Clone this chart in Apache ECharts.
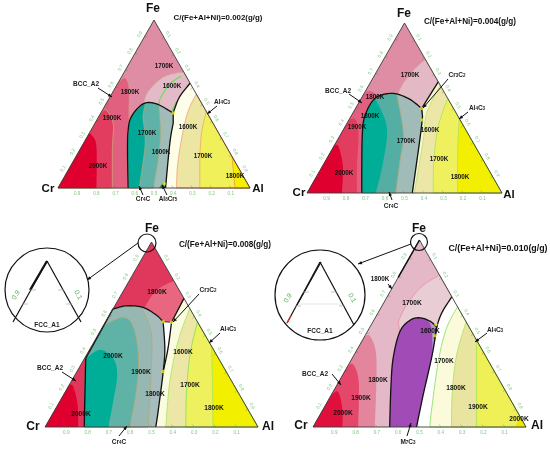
<!DOCTYPE html>
<html><head><meta charset="utf-8">
<style>html,body{margin:0;padding:0;background:#fff}#c{width:550px;height:454px}</style>
<script src="https://cdn.jsdelivr.net/npm/echarts@6/dist/echarts.min.js"></script>
</head><body><div id="c"></div>
<script>
// Region outlines in composition percent [Al, Fe]. "_" marks a sharp corner between smooth runs.
const _ = null;
const tickLabels = ['0.1','0.2','0.3','0.4','0.5','0.6','0.7','0.8','0.9'];
const titles = ['C/(Fe+Al+Ni)=0.002(g/g)','C/(Fe+Al+Ni)=0.004(g/g)','C/(Fe+Al+Ni)=0.008(g/g)','C/(Fe+Al+Ni)=0.010(g/g)'];
const whole = [[0,0],_,[100,0],_,[0,100]];

// Panel 1
const p1Light = [[30.7,69.3],[21.8,65.9],[18.3,57.4],[19.4,50.5],_,[37.7,44.6],_,[37.6,62.4]];
const p1Red1800 = [[0,63],[2,65.7],[7,60],[13.8,46.5],[20.7,32.7],[36.5,0],_,[0,0]];
const p1Red1900 = [[0,43.5],[1.6,46.5],[9.4,38.6],[16.9,22.8],[28.3,0],_,[0,0]];
const p1Red2000 = [[0,32],[1.5,31.7],[7.6,24.8],[20,0],_,[0,0]];
const p1Cream = [[37.6,62.4],_,[100,0],_,[56,0],[44.9,26.7],[40.7,38.6],_,[37.7,44.6],[37.1,47.5],[36.2,54.5],[37.6,62.4]];
const p1Pale = [[44,56],[45.6,42.6],[54.2,16.8],[61.7,0],_,[100,0]];
const p1Yellow = [[54.5,45.5],[58.4,32.7],[65.5,16.8],[73.9,0],_,[100,0]];
const p1Bright = [[81.2,18.8],[92.2,0],_,[100,0]];
const p1Blob = [[36.5,0],[24.8,22.8],[19.2,34.7],[17,42.6],[19.3,50.1],[26.2,50.1],[37.7,44.6],_,[40.7,38.6],[44.9,26.7],[56,0]];
const p1Mid = [[36.5,0],[24.8,22.8],[19.2,34.7],[17,42.6],[19.3,50.1],[26.2,50.1],[27.7,49.6],_,[27.7,49.6],[37,32.7],[43.8,16.8],[49.6,0]];
const p1Dark = [[36.5,0],[24.8,22.8],[19.2,34.7],[17,42.6],[19.3,50.1],[20.5,50.1],_,[20.5,50.1],[23,42.6],[28.9,32.7],[33.8,22.8],[42.3,0]];
const p1Al8Cr5 = [[52.7,0],_,[53.1,3.4],_,[56,0]];
const p1Line = [[37.7,44.6],[37.1,47.5],[36.2,54.5],[37.6,62.4]];
const p1GreenA = [[31,66.7],[27.3,62],[26.6,53.5],[27.7,50]];
const p1GreenB = [[36,51.5],[36.4,45.5]];
const p1Dots = [[37.7,44.6],[54,2.5]];

// Panel 2
const p2Light = [[21.5,78.5],[18.8,73.2],[17.1,64.5],[17.5,58.6],_,[33.9,49.8],_,[34.6,65.4]];
const p2Red1800 = [[0,58],[2.4,60],[8.3,56.6],[12.9,50.8],_,[28,0],_,[0,0]];
const p2Red1900 = [[0,43],[3,43.4],[8.8,35.2],[17.8,15.6],[25.6,0],_,[0,0]];
const p2Red2000 = [[0,28],[2.5,27.3],[10.6,15.6],[17.9,0],_,[0,0]];
const p2Pale = [[34.6,65.4],_,[100,0],_,[54,0],[42.2,31.3],[36.8,44.9],[33.9,49.8]];
const p2Cream = [[36.5,63.5],[37.9,46.9],[44,31.3],[55,0],_,[54,0],[42.2,31.3],[36.8,44.9],[33.9,49.8],_,[34.6,65.4]];
const p2Yellow = [[44.3,55.7],[47.8,39],[55.3,19.5],[64.7,0],_,[100,0]];
const p2Bright = [[56.1,43.9],[64.6,25.4],[77.2,0],_,[100,0]];
const p2Blob = [[28.1,0],[20.3,15.6],[10.8,35.2],[6.9,45.9],[7.1,55.7],[14.1,58.6],[24,55.7],[33.9,49.8],_,[36.8,44.9],[42.2,31.3],[54,0]];
const p2Mid = [[28.1,0],[20.3,15.6],[10.8,35.2],[6.9,45.9],[7.1,55.7],[14.1,58.6],[16.8,58.4],_,[16.8,58.4],[31.8,35.2],[38,19.5],[45.5,0]];
const p2Dark = [[28.1,0],[20.3,15.6],[10.8,35.2],[6.9,45.9],[7.1,55.7],_,[7.1,55.7],[21.4,39],[29.5,19.5],[35.3,0]];
const p2Line = [[33.9,49.8],[34.6,65.4]];
const p2Dots = [[33.9,49.8],[37.5,43]];

// Panel 3
const p3Patch = [[21,79],[15.4,73.9],[14.4,65],_,[22,60.5],[27,56.9],_,[31.1,56.6],_,[30.5,69.5]];
const p3Red2000 = [[0,22.8],[2.3,21.9],[9.3,12],[15.6,0],_,[0,0]];
const p3Cream = [[30.5,69.5],_,[100,0],_,[52,0],[48.9,8.4],[40.5,30],_,[36.5,42.5],[31.1,56.6]];
const p3Pale = [[35.9,64.1],[39.2,46.7],[46.3,24.6],[56.7,0],_,[100,0]];
const p3Yellow = [[43.1,56.9],[48.7,38.6],[57.7,17.4],[66.1,0],_,[100,0]];
const p3Bright = [[56.5,43.5],[66.3,24.6],[78.9,0],_,[100,0]];
const p3Blob = [[18.4,0],_,[0.6,37],_,[0,63.7],[5.5,65.5],[13.8,64.6],[22,60.5],[27,56.9],_,[27,56.9],[35,42.5],[40.5,30],[48.9,8.4],[52,0]];
const p3Wedge = [[27,56.9],_,[31.1,56.6],[36.5,42.5],[40.5,30],_,[40.5,30],[35,42.5],[27,56.9]];
const p3Gray = [[18.4,0],_,[0.6,37],_,[0,63.7],[5.5,65.5],[13,64.7],_,[13,64.7],[24,51.5],[33.2,33.6],[48.4,0]];
const p3Mid = [[18.4,0],_,[0.6,37],_,[0,55],[7.1,59.2],[14.3,54.2],[24.3,39],[32.5,21],[39.8,0]];
const p3Dark = [[18.4,0],_,[0.6,37],[4.9,41.7],[13.4,37.2],[19.8,28.2],[25.1,13.8],[29.7,0]];
const p3LineA = [[18.4,0],[0.6,37]];
const p3LineB = [[31.1,56.6],[36.5,42.5],[40.5,30]];
const p3LineC = [[30.5,69.5],[31.1,56.6]];
const p3TopLine = [[27,56.9],[31.1,56.6]];
const p3Dots = [[27,56.9],[31.1,56.6],[40.5,30]];

// Panel 4
const p4Patch = [[18.75,81.25],[13.4,75],[11.3,65.2],[11.9,56.2],_,[18.8,45.5],_,[33.3,47.3],[30.7,56.2],[29.9,62.5],[30.4,69.6]];
const p4Red1800 = [[0,48.2],[2.3,48.75],[9.4,40.2],[17.7,24.1],[29,0],_,[0,0]];
const p4Red1900 = [[0,32],[2,33.6],[9.4,24.1],[21.2,0],_,[0,0]];
const p4Red2000 = [[0,17],[2.4,18.75],[8.9,9.8],[13.8,0],_,[0,0]];
const p4White = [[30.4,69.6],_,[100,0],_,[48.6,0],[43.2,17],[37.3,36.6],[33.3,47.3],[30.7,56.2],[29.9,62.5],[30.4,69.6]];
const p4Cream = [[35.7,64.3],[36.3,52.7],[41.4,34.8],[52.2,6.3],[54.9,0],_,[100,0]];
const p4Pale = [[43.75,56.25],[48.2,38.4],[56,18.8],[65,0],_,[100,0]];
const p4Yellow = [[53.6,46.4],_,[76.8,0],_,[100,0]];
const p4Bright = [[93.7,6.3],[95.1,0],_,[100,0]];
const p4Blob = [[36,0],[26.3,20.5],[19.3,36.6],[15.3,50.9],[17,57.1],[21,58.4],[26.6,56.6],[31.2,53.6],_,[33,49.1],[37.3,36.6],[43.2,17],[48.6,0]];
const p4Lilac = [[25,57.5],[29.3,52.7],[35.1,42],_,[37.3,36.6],[33,49.1],[31.2,53.6],[26.6,56.6]];
const p4Line = [[33.3,47.3],[30.7,56.2],[29.9,62.5],[30.4,69.6]];
const p4Sliver = [[0,100],[0,80]];
const p4Dots = [[30.3,54.8],[32.8,48.8]];

const font = '"Liberation Sans", Arial, sans-serif';
const frames = [
  {left:58, top:20, width:192, height:168},
  {left:307, top:23, width:195, height:170},
  {left:45, top:242, width:213, height:185},
  {left:313, top:240, width:213, height:187}
];
const cp = p => [(p[0] + p[1] / 2) / 100, p[1] / 100];

function trace(pts, api) {
  const runs = [[]];
  pts.forEach(p => { if (p) runs[runs.length - 1].push(api.coord(cp(p))); else runs.push([]); });
  const out = [];
  runs.forEach(r => {
    if (r.length < 3) { r.forEach(q => out.push(q)); return; }
    for (let i = 0; i < r.length - 1; i++) {
      const a = r[Math.max(i - 1, 0)], b = r[i], c = r[i + 1], d = r[Math.min(i + 2, r.length - 1)];
      for (let k = 0; k < 10; k++) {
        const t = k / 10, t2 = t * t, t3 = t2 * t;
        out.push([0, 1].map(j => 0.5 * (2 * b[j] + (c[j] - a[j]) * t + (2 * a[j] - 5 * b[j] + 4 * c[j] - d[j]) * t2 + (3 * b[j] - a[j] - 3 * c[j] + d[j]) * t3)));
      }
    }
    out.push(r[r.length - 1]);
  });
  return out;
}
function area(panel, pts, fill, stroke) {
  return {type:'custom', xAxisIndex:panel, yAxisIndex:panel, silent:true, animation:false, clip:false,
    data:pts.filter(Boolean).map(cp),
    renderItem(params, api) {
      if (params.dataIndex) return null;
      return {type:'polygon', shape:{points:trace(pts, api)}, style:{fill, stroke:stroke || fill, lineWidth:stroke ? 0.8 : 0}};
    }};
}
function line(panel, pts, color, width) {
  return {type:'custom', xAxisIndex:panel, yAxisIndex:panel, silent:true, animation:false, clip:false,
    data:pts.filter(Boolean).map(cp),
    renderItem(params, api) {
      if (params.dataIndex) return null;
      return {type:'polyline', shape:{points:trace(pts, api)}, style:{fill:null, stroke:color, lineWidth:width}};
    }};
}
function dots(panel, pts) {
  return {type:'scatter', xAxisIndex:panel, yAxisIndex:panel, silent:true, animation:false, symbolSize:3.5,
    itemStyle:{color:'#f4e31c'}, data:pts.map(cp)};
}
function scale(panel) {
  const items = [];
  tickLabels.forEach((s, i) => {
    const t = (i + 1) * 10;
    items.push([cp([0, t]), s, 0], [cp([t, 100 - t]), s, 1], [cp([100 - t, 0]), s, 2]);
  });
  return {type:'custom', xAxisIndex:panel, yAxisIndex:panel, silent:true, animation:false, clip:false,
    data:items.map(d => d[0]),
    renderItem(params, api) {
      const d = items[params.dataIndex], q = api.coord(d[0]), side = d[2];
      const off = [[-4.5, -2.5], [4.5, -2.5], [0, 5.5]][side];
      const tick = [[3, 0], [-1.5, 2.6], [-1.5, -2.6]][side];
      return {type:'group', children:[
        {type:'line', shape:{x1:q[0], y1:q[1], x2:q[0] + tick[0], y2:q[1] + tick[1]}, style:{stroke:'rgba(90,90,90,0.45)', lineWidth:0.6}},
        {type:'text', x:q[0] + off[0], y:q[1] + off[1], rotation:[Math.PI / 3, -Math.PI / 3, 0][side],
          style:{text:d[1], fontSize:4.6, fontFamily:font, fill:'#84c484', align:'center', verticalAlign:'middle'}}
      ]};
    }};
}

const edge = '#3a3a3a', black = '#111';
const outline = whole.concat([_, [0,0]]);
const series = [
  // panel 1
  area(0, whole, '#de8da4'),
  area(0, p1Light, '#e3bbc8', '#d9a98e'),
  line(0, p1GreenA, '#66e04c', 1.1), line(0, p1GreenB, '#66e04c', 1.1),
  area(0, p1Red1800, '#e2607f', '#cfa37a'),
  area(0, p1Red1900, '#e23c5e', '#cfa37a'),
  area(0, p1Red2000, '#e0002f'),
  area(0, p1Cream, '#fefde8'),
  area(0, p1Pale, '#ece6a2', '#f0a078'),
  area(0, p1Yellow, '#eff05a', '#eda765'),
  area(0, p1Bright, '#f5ef00', '#f29a38'),
  area(0, p1Blob, '#a0bcb8'),
  area(0, p1Mid, '#5fb2a7', '#a9ac7c'),
  area(0, p1Dark, '#00a997', '#a9ac7c'),
  area(0, p1Al8Cr5, '#1d7d4c'),
  line(0, p1Blob, black, 1.3), line(0, p1Line, black, 1.3),
  line(0, outline, edge, 0.9),
  dots(0, p1Dots), scale(0),
  // panel 2
  area(1, whole, '#de8da4'),
  area(1, p2Light, '#e3b9c6', '#d9a98e'),
  area(1, p2Red1800, '#e2607f'),
  area(1, p2Red1900, '#e23c5e'),
  area(1, p2Red2000, '#e0002f'),
  area(1, p2Pale, '#ece7a6'),
  area(1, p2Cream, '#f9f7d2', '#b8e070'),
  area(1, p2Yellow, '#eff05e', '#a6e35c'),
  area(1, p2Bright, '#f3ef00', '#a6e35c'),
  area(1, p2Blob, '#a0bbb8'),
  area(1, p2Mid, '#55aea3', '#b0a878'),
  area(1, p2Dark, '#00ad97'),
  line(1, p2Blob, black, 1.3), line(1, p2Line, black, 1.3),
  line(1, outline, edge, 0.9),
  dots(1, p2Dots), scale(1),
  // panel 3
  area(2, whole, '#e0385c'),
  area(2, p3Patch, '#e8667f'),
  area(2, p3Red2000, '#e0002f'),
  area(2, p3Cream, '#fbfbe0'),
  area(2, p3Pale, '#ece7a6', '#a6e35c'),
  area(2, p3Yellow, '#eff05e', '#7fe05c'),
  area(2, p3Bright, '#f3ef00', '#a6e35c'),
  area(2, p3Blob, '#a6bcbc'),
  area(2, p3Gray, '#97b7b3', '#b0a878'),
  area(2, p3Mid, '#5fb3a6', '#b0a878'),
  area(2, p3Dark, '#00ad97'),
  area(2, p3Wedge, '#ffffff'),
  line(2, p3Blob.slice(2), black, 1.3), line(2, p3LineA, black, 1.4), line(2, p3LineB, black, 1.3),
  line(2, p3LineC, black, 1.3), line(2, p3TopLine, black, 0.8),
  line(2, outline, edge, 0.9),
  dots(2, p3Dots), scale(2),
  // panel 4
  area(3, whole, '#e4b8c6'),
  area(3, p4Patch, '#e8cdd5', '#ee8c98'),
  area(3, p4Red1800, '#e2859d'),
  area(3, p4Red1900, '#e5476a'),
  area(3, p4Red2000, '#e0103c'),
  area(3, p4White, '#ffffff'),
  area(3, p4Cream, '#fbfadb', '#7fe05c'),
  area(3, p4Pale, '#e9e4a0', '#a6e35c'),
  area(3, p4Yellow, '#eef055', '#a6e35c'),
  area(3, p4Bright, '#efe600'),
  area(3, p4Blob, '#a04bb6'),
  area(3, p4Lilac, '#b598c8'),
  line(3, p4Blob, black, 1.3), line(3, p4Line, black, 1.3),
  line(3, outline, edge, 0.9),
  line(3, p4Sliver, black, 1.5),
  dots(3, p4Dots), scale(3)
];

// Text and callouts
const g = [];
const txt = (s, x, y, size) => g.push({type:'text', x, y, z:100, silent:true,
  style:{text:s, fontSize:size, fontWeight:'bold', fontFamily:font, fill:'#111', align:'center', verticalAlign:'middle'}});
const plain = (s, x, y) => g.push({type:'text', x, y, z:100, silent:true,
  style:{text:s, fontSize:6.5, fontWeight:'bold', fontFamily:font, fill:'#222', align:'center', verticalAlign:'middle'}});
const phase = (s, x, y) => {
  const esc = s.replace(/(\d+)/g, '}{s|$1}{n|');
  g.push({type:'text', x, y, z:100, silent:true, style:{text:'{n|' + esc + '}', align:'center', verticalAlign:'middle', fontFamily:font,
    rich:{n:{fontSize:6.5, fontWeight:'bold', fontFamily:font, fill:'#222', verticalAlign:'bottom'}, s:{fontSize:4.5, fontWeight:'bold', fontFamily:font, fill:'#222', verticalAlign:'bottom'}}}});
};
const arrow = (x1, y1, x2, y2) => {
  const a = Math.atan2(y2 - y1, x2 - x1), L = 4, W = 1.7;
  g.push({type:'line', z:100, silent:true, shape:{x1, y1, x2, y2}, style:{stroke:'#111', lineWidth:1}});
  const bx = x2 - L * Math.cos(a), by = y2 - L * Math.sin(a);
  g.push({type:'polygon', z:100, silent:true, shape:{points:[[x2, y2], [bx - W * Math.sin(a), by + W * Math.cos(a)], [bx + W * Math.sin(a), by - W * Math.cos(a)]]}, style:{fill:'#111'}});
};
const seg = (x1, y1, x2, y2, stroke, w, z) => g.push({type:'line', z:z || 101, silent:true, shape:{x1, y1, x2, y2}, style:{stroke, lineWidth:w}});
const ring = (cx, cy, r, fill, z) => g.push({type:'circle', z:z || 100, silent:true, shape:{cx, cy, r}, style:{fill, stroke:'#111', lineWidth:1.2}});
const mini = (s, x, y, rot) => g.push({type:'text', x, y, z:102, silent:true, rotation:rot, style:{text:s, fontSize:7, fontFamily:font, fill:'#58b058', align:'center', verticalAlign:'middle'}});

// panel 1
txt('Fe',153,9,12); txt(titles[0],218,18,7.9); txt('Cr',48,189,11.5); txt('Al',258,189,11.5);
[['1700K',164,66],['1600K',172,86],['1800K',130,92],['1900K',112,118],['1700K',147,133],['1600K',161,152],['2000K',98,166],['1600K',188,127],['1700K',203,156],['1800K',235,176]].forEach(d => txt(d[0], d[1], d[2], 6.3));
plain('BCC_A2',86,84); arrow(98,88,112,97);
phase('Al4C3',222,102); arrow(217,106,207,114);
phase('Cr4C',143,199); arrow(143,195,139,186);
phase('Al8Cr5',168,199); arrow(167,195,162,185);
// panel 2
txt('Fe',404,14,12); txt(titles[1],470,22,8.2); txt('Cr',299,193,11.5); txt('Al',509,195,11.5);
[['1700K',410,75],['1800K',375,97],['1800K',370,116],['1900K',357,127],['2000K',344,173],['1700K',406,141],['1600K',430,130],['1700K',439,159],['1800K',460,177]].forEach(d => txt(d[0], d[1], d[2], 6.3));
plain('BCC_A2',338,91); arrow(349,94,362,103);
phase('Cr3C2',457,75); arrow(448,79,423,108);
phase('Al4C3',477,108); arrow(468,112,459,119);
phase('Cr4C',391,206); arrow(392,200,389,192);
// panel 3
txt('Fe',152,229,12); txt(titles[2],225,245,8.2); txt('Cr',33,427,12); txt('Al',268,427,12);
[['1800K',157,292],['2000K',113,356],['1900K',141,372],['1800K',155,394],['2000K',81,414],['1600K',183,352],['1700K',190,385],['1800K',214,408]].forEach(d => txt(d[0], d[1], d[2], 6.6));
plain('BCC_A2',50,368); arrow(62,372,76,381);
phase('Cr3C2',208,290); arrow(199,294,173,322);
phase('Al4C3',228,329); arrow(220,333,209,343);
phase('Cr4C',119,442); arrow(119,436,127,426);
ring(147,243,9,'rgba(0,0,0,0)'); arrow(138,243,87,280);
ring(47,290,42,'#fff');
seg(47,261,13,322,'#111',1.2); seg(47,261,81,322,'#111',1.2); seg(47,261,30,290,'#111',2.2);
[[30,290,36,290],[22,304,28,304],[64,290,58,290],[72,304,66,304]].forEach(s => seg(s[0],s[1],s[2],s[3],'#aaa',0.7));
mini('0.9',16,295,Math.PI / 3); mini('0.1',78,295,-Math.PI / 3);
plain('FCC_A1',47,325);
// panel 4
txt('Fe',419,229,12); txt(titles[3],498,249,8.8); txt('Cr',301,426,12); txt('Al',537,426,12);
[['1700K',412,303],['1600K',430,331],['1700K',444,361],['1800K',378,380],['1800K',456,388],['1900K',361,398],['1900K',478,407],['2000K',343,413],['2000K',519,419]].forEach(d => txt(d[0], d[1], d[2], 6.6));
txt('1800K',380,279,6.3); arrow(388,284,392,289);
plain('BCC_A2',315,374); arrow(332,374,341,385);
phase('Al4C3',495,330); arrow(487,333,475,342);
phase('M7C3',408,442); arrow(407,436,411,423);
ring(419,242,8.5,'rgba(0,0,0,0)'); arrow(411,244,358,264);
ring(320,295,45,'#fff');
seg(320,262,287,323,'#111',1.2); seg(320,262,354,325,'#111',1.2); seg(321,262,297,305,'#111',1.2);
seg(291,316,287,323,'#e03030',1.2);
seg(298,304,342,304,'#ddd',0.7);
[[303,292,309,292],[295,306,301,306],[337,292,331,292],[345,306,339,306]].forEach(s => seg(s[0],s[1],s[2],s[3],'#aaa',0.7));
mini('0.9',288,298,Math.PI / 3); mini('0.1',352,298,-Math.PI / 3);
plain('FCC_A1',320,331);

const axisCommon = {type:'value', min:0, max:1, show:false};
const chart = echarts.init(document.getElementById('c'), null, {renderer:'canvas', width:550, height:454});
chart.setOption({
  animation:false, backgroundColor:'#fff',
  grid:frames.map(f => Object.assign({containLabel:false}, f)),
  xAxis:frames.map((f, i) => Object.assign({gridIndex:i}, axisCommon)),
  yAxis:frames.map((f, i) => Object.assign({gridIndex:i}, axisCommon)),
  series, graphic:{elements:g}
});
</script></body></html>
